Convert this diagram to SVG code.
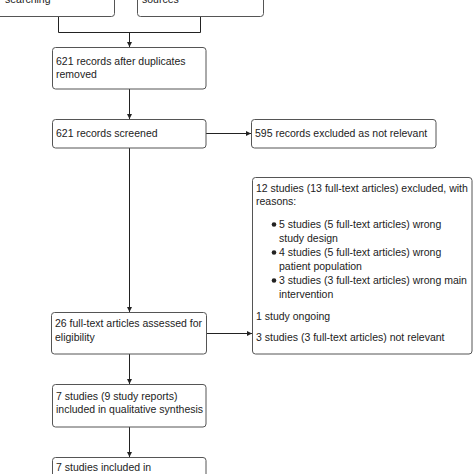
<svg xmlns="http://www.w3.org/2000/svg" width="474" height="474" viewBox="0 0 474 474">
<style>
.box{fill:#fff;stroke:#555;stroke-width:1}
text{font-family:"Liberation Sans",Arial,sans-serif;font-size:10.5px;fill:#222}
.ln{stroke:#222;stroke-width:1;fill:none}
</style>
<defs>
<marker id="ah" markerWidth="6" markerHeight="6" refX="5" refY="3" orient="auto" markerUnits="userSpaceOnUse">
<path d="M0,0.5 L5,3 L0,5.5 Z" fill="#222"/>
</marker>
</defs>
<rect width="474" height="474" fill="#fff"/>
<g id="connectors">
<path class="ln" d="M58.5,16 V32.5 H200.5 V16"/>
<path class="ln" d="M129.5,32.5 V47" marker-end="url(#ah)"/>
<path class="ln" d="M129.5,89 V119" marker-end="url(#ah)"/>
<path class="ln" d="M206,133.5 H251" marker-end="url(#ah)"/>
<path class="ln" d="M129.5,148 V312" marker-end="url(#ah)"/>
<path class="ln" d="M206,333.5 H252" marker-end="url(#ah)"/>
<path class="ln" d="M129.5,354 V384" marker-end="url(#ah)"/>
<path class="ln" d="M129.5,427 V457" marker-end="url(#ah)"/>
</g>
<g id="n_search">
<rect class="box" x="-5" y="-20" width="119.5" height="36.5" rx="3"/>
<text x="5" y="3">searching</text>
</g>
<g id="n_other">
<rect class="box" x="137.5" y="-20" width="126" height="36.5" rx="3"/>
<text x="142" y="3">sources</text>
</g>
<g id="n_dup">
<rect class="box" x="52.5" y="47.5" width="153.5" height="41.5" rx="3"/>
<text x="56" y="65">621 records after duplicates</text>
<text x="56" y="78">removed</text>
</g>
<g id="n_screened">
<rect class="box" x="52.5" y="119.5" width="153.5" height="28.5" rx="3"/>
<text x="56" y="137">621 records screened</text>
</g>
<g id="n_excl1">
<rect class="box" x="251.5" y="119.5" width="184.5" height="28.5" rx="3"/>
<text x="255" y="137">595 records excluded as not relevant</text>
</g>
<g id="n_excl2">
<rect class="box" x="252.5" y="177.5" width="219.5" height="176.5" rx="3"/>
<text x="256" y="192">12 studies (13 full-text articles) excluded, with</text>
<text x="256" y="205">reasons:</text>
<circle cx="274" cy="224.5" r="2.3" fill="#222"/>
<text x="279" y="228">5 studies (5 full-text articles) wrong</text>
<text x="279" y="242">study design</text>
<circle cx="274" cy="252.5" r="2.3" fill="#222"/>
<text x="279" y="256">4 studies (5 full-text articles) wrong</text>
<text x="279" y="270">patient population</text>
<circle cx="274" cy="280.5" r="2.3" fill="#222"/>
<text x="279" y="284">3 studies (3 full-text articles) wrong main</text>
<text x="279" y="298">intervention</text>
<text x="256" y="320">1 study ongoing</text>
<text x="256" y="341">3 studies (3 full-text articles) not relevant</text>
</g>
<g id="n_full">
<rect class="box" x="51.5" y="312.5" width="155" height="41.5" rx="3"/>
<text x="55" y="327">26 full-text articles assessed for</text>
<text x="55" y="341">eligibility</text>
</g>
<g id="n_qual">
<rect class="box" x="52.5" y="384.5" width="153.5" height="42.5" rx="3"/>
<text x="56" y="400">7 studies (9 study reports)</text>
<text x="56" y="413">included in qualitative synthesis</text>
</g>
<g id="n_quant">
<rect class="box" x="52.5" y="457.5" width="153.5" height="40" rx="3"/>
<text x="56" y="471">7 studies included in</text>
</g>
</svg>
